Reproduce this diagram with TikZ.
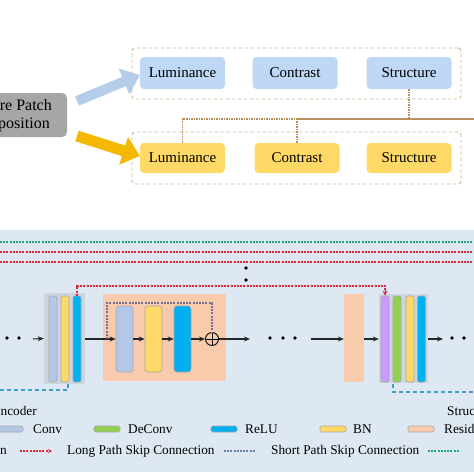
\documentclass[tikz,border=0pt]{standalone}
\usepackage{fontspec}
\setmainfont{Liberation Serif}
\usetikzlibrary{arrows.meta}
\definecolor{boxblue}{RGB}{190,216,246}
\definecolor{boxyellow}{RGB}{255,217,102}
\definecolor{boxgray}{RGB}{166,166,166}
\definecolor{grpline}{RGB}{208,180,150}
\definecolor{linkline}{RGB}{185,145,95}
\definecolor{arrblue}{RGB}{180,205,232}
\definecolor{arryellow}{RGB}{245,184,0}
\definecolor{bgblue}{RGB}{221,232,243}
\definecolor{blockgray}{RGB}{205,213,222}
\definecolor{convc}{RGB}{180,199,231}
\definecolor{bnc}{RGB}{255,217,102}
\definecolor{reluc}{RGB}{0,176,240}
\definecolor{deconvc}{RGB}{146,208,80}
\definecolor{purplec}{RGB}{204,153,255}
\definecolor{resc}{RGB}{248,203,173}
\definecolor{redskip}{RGB}{220,40,60}
\definecolor{shortc}{RGB}{120,110,150}
\definecolor{greenskip}{RGB}{30,170,120}
\definecolor{cyanskip}{RGB}{60,160,200}
\tikzset{
  grp/.style={draw=grpline, dashed, dash pattern=on 3.5pt off 2.5pt, rounded corners=3pt, line width=0.9pt},
  bluebox/.style={fill=boxblue, rounded corners=4pt, minimum width=85pt, minimum height=32pt, inner sep=0pt, font=\fontsize{15}{17}\selectfont},
  yelbox/.style={fill=boxyellow, rounded corners=4pt, minimum width=85pt, minimum height=30pt, inner sep=0pt, font=\fontsize{15}{17}\selectfont},
  linkdot/.style={draw=linkline, line width=1.2pt, dash pattern=on 1.5pt off 1pt},
  linksolid/.style={draw=linkline, line width=1.3pt},
  bar/.style={draw=gray!70, line width=0.6pt, rounded corners=2pt, minimum height=86pt, inner sep=0pt},
  ibar/.style={draw=gray!70, line width=0.6pt, rounded corners=3pt, minimum width=17pt, minimum height=66pt, inner sep=0pt},
  flow/.style={-{Stealth[length=6pt,width=5pt]}, line width=1.1pt, black!85},
  longskip/.style={draw=redskip, line width=1.2pt, dash pattern=on 2pt off 1.2pt},
  shortskip/.style={draw=shortc, line width=1.2pt, dash pattern=on 2pt off 1.2pt},
  greenline/.style={draw=greenskip, line width=1.2pt, dash pattern=on 2pt off 1.2pt},
  cyanline/.style={draw=cyanskip, line width=1.1pt, dash pattern=on 4pt off 3pt},
  swatch/.style={draw=gray!70, line width=0.6pt, rounded corners=1.5pt, minimum width=26pt, minimum height=6pt, inner sep=0pt},
  lbl/.style={font=\fontsize{13.3}{15}\selectfont, inner sep=0pt, anchor=west},
  dotc/.style={fill=black, radius=1.9pt}
}
\begin{document}
\begin{tikzpicture}[x=1pt,y=-1pt]
\useasboundingbox (0,0) rectangle (474,474);
\clip (0,0) rectangle (474,474);
\fill[white] (0,0) rectangle (474,474);

% ---------- top part ----------
\node[fill=boxgray, rounded corners=5pt, minimum width=87pt, minimum height=44pt, inner sep=0pt] (patch) at (23.5,115) {};
\node[font=\fontsize{16}{18}\selectfont, anchor=east, inner sep=0pt] (t1) at (52,105) {re Patch};
\node[font=\fontsize{16}{18}\selectfont, anchor=east, inner sep=0pt] (t2) at (50,125) {position};

\node[grp, minimum width=329pt, minimum height=51pt, inner sep=0pt] (ugrp) at (296.5,73.5) {};
\node[grp, minimum width=329pt, minimum height=52pt, inner sep=0pt] (lgrp) at (296.5,158) {};

\node[bluebox] (u1) at (182.5,73) {Luminance};
\node[bluebox] (u2) at (295,73) {Contrast};
\node[bluebox] (u3) at (409,73) {Structure};
\node[yelbox] (l1) at (182.5,158) {Luminance};
\node[yelbox] (l2) at (297,158) {Contrast};
\node[yelbox] (l3) at (409,158) {Structure};

\coordinate (ja) at (409,119);
\coordinate (jb) at (297,119);
\coordinate (jr) at (474,119);
\draw[linkdot] (u3.south) -- (ja);
\draw[linkdot] (l1.north) |- (jb);
\draw[linkdot] (l2.north) -- (jb);
\draw[linksolid] (jb) -- (jr);

\coordinate (ab) at (77,101);
\coordinate (ay) at (77,136);
\draw[arrblue, line width=10pt, -{Triangle[length=17pt,width=27pt]}] (ab) -- (u1.west |- 0,75);
\draw[arryellow, line width=11pt, -{Triangle[length=17pt,width=28pt]}] (ay) -- (l1.west |- 0,156);

% ---------- bottom part ----------
\fill[bgblue] (0,230) rectangle (474,472);
\coordinate (g0) at (0,242); \coordinate (g1) at (474,242);
\coordinate (r0) at (0,252); \coordinate (r1) at (474,252);
\coordinate (s0) at (0,262); \coordinate (s1) at (474,262);
\draw[greenline] (g0) -- (g1);
\draw[longskip] (r0) -- (r1);
\draw[longskip] (s0) -- (s1);
\fill[dotc] (246,268) circle;
\fill[dotc] (246,280) circle;

% encoder block
\node[fill=blockgray, minimum width=41pt, minimum height=91pt, inner sep=0pt] (eb) at (64.5,338.5) {};
\node[bar, fill=convc, minimum width=8pt] (ec) at (53,339) {};
\node[bar, fill=bnc, minimum width=8pt] (en) at (65,339) {};
\node[bar, fill=reluc, minimum width=8pt] (er) at (77,339) {};

% residual block
\node[fill=resc, minimum width=123pt, minimum height=87pt, inner sep=0pt] (rb) at (164.5,337.5) {};
\node[ibar, fill=convc] (rc) at (124.5,339) {};
\node[ibar, fill=bnc] (rn) at (153.5,339) {};
\node[ibar, fill=reluc] (rr) at (182.5,339) {};
\node[draw=black, line width=0.9pt, circle, minimum size=13pt, inner sep=0pt] (plus) at (212,339) {};
\draw[line width=0.9pt] (plus.north) -- (plus.south) (plus.west) -- (plus.east);

% second residual (collapsed) and decoder
\node[fill=resc, minimum width=20pt, minimum height=88pt, inner sep=0pt] (ob) at (354,338) {};
\node[fill=blockgray, minimum width=49pt, minimum height=89pt, inner sep=0pt] (db) at (403.5,338.5) {};
\node[bar, fill=purplec, minimum width=8pt] (dp) at (385,339) {};
\node[bar, fill=deconvc, minimum width=8pt] (dg) at (397,339) {};
\node[bar, fill=bnc, minimum width=8pt] (dn) at (410,339) {};
\node[bar, fill=reluc, minimum width=8pt] (dr) at (421.5,339) {};

% flow arrows
\coordinate (in0) at (33,339);
\coordinate (o1) at (250,339);
\coordinate (o2) at (311,339);
\coordinate (o3) at (443,339);
\draw[flow] (in0) -- (eb.west);
\draw[flow] (eb.east |- 0,339) -- (rc.west);
\draw[flow] (rc.east) -- (rn.west);
\draw[flow] (rn.east) -- (rr.west);
\draw[flow] (rr.east) -- (plus.west);
\draw[flow] (plus.east) -- (o1);
\draw[flow] (o2) -- (ob.west |- 0,339);
\draw[flow] (ob.east |- 0,339) -- (db.west |- 0,339);
\draw[flow] (db.east |- 0,339) -- (o3);

% dots
\foreach \x in {7,19,270,283,295,452,464} \fill[dotc] (\x,338) circle;

% skips
\coordinate (sk) at (107,339);
\draw[shortskip] (sk) -- (107,303) -| (plus.north);
\draw[longskip] (er.north) -- (77,286) -| (385,292);
\draw[redskip, -{Stealth[length=5pt,width=5pt]}, line width=0.9pt] (385,290) -- (dp.north);
\coordinate (c0) at (0,390);
\coordinate (c1) at (474,392);
\draw[cyanline] (c0) -- (68,390) -- (68,384);
\draw[cyanline] (393,384) -- (393,392) -- (c1);

% labels
\node[font=\fontsize{13.3}{15}\selectfont, anchor=east, inner sep=0pt] (enc) at (37,411) {Encoder};
\node[lbl] (str) at (447,411) {Struc};

% legend row 1
\node[swatch, fill=convc] (sw1) at (10,429) {};
\node[lbl] (lg1) at (33,429) {Conv};
\node[swatch, fill=deconvc] (sw2) at (107,429) {};
\node[lbl] (lg2) at (128,429) {DeConv};
\node[swatch, fill=reluc] (sw3) at (224,429) {};
\node[lbl] (lg3) at (245,429) {ReLU};
\node[swatch, fill=bnc] (sw4) at (333,429) {};
\node[lbl] (lg4) at (353,429) {BN};
\node[swatch, fill=resc] (sw5) at (421,429) {};
\node[lbl] (lg5) at (444,429) {Resid};

% legend row 2
\node[font=\fontsize{13.3}{15}\selectfont, anchor=east, inner sep=0pt] (lgn) at (7,451) {n};
\coordinate (la0) at (20,451); \coordinate (la1) at (52,451);
\draw[longskip, -{Stealth[length=4pt,width=4pt]}] (la0) -- (la1);
\node[lbl] (lg6) at (67,451) {Long Path Skip Connection};
\coordinate (lb0) at (224,451); \coordinate (lb1) at (256,451);
\draw[shortskip, draw=shortc!60!cyanskip] (lb0) -- (lb1);
\node[lbl] (lg7) at (271,451) {Short Path Skip Connection};
\coordinate (lc0) at (428,451); \coordinate (lc1) at (460,451);
\draw[greenline] (lc0) -- (lc1);
\end{tikzpicture}
\end{document}
